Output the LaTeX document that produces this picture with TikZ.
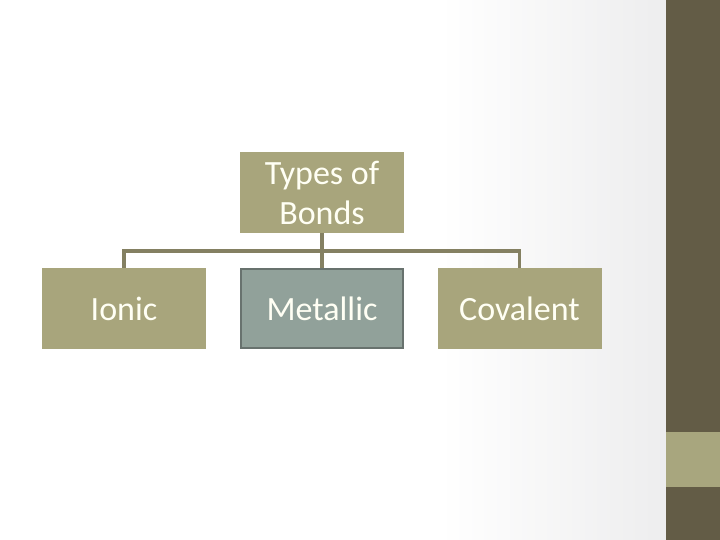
\documentclass[tikz,border=0pt]{standalone}
\usepackage{fontspec}
\setmainfont{Carlito}
\definecolor{boxfill}{HTML}{A8A57C}
\definecolor{metfill}{HTML}{91A19A}
\definecolor{metline}{HTML}{68726E}
\definecolor{conn}{HTML}{848062}
\definecolor{bardark}{HTML}{635C46}
\definecolor{barlight}{HTML}{A8A67E}
\definecolor{bgright}{HTML}{EDEDEE}
\definecolor{txt}{HTML}{FFFFF4}
\begin{document}
\begin{tikzpicture}[x=1pt,y=-1pt,
  bondbox/.style={fill=boxfill, text=txt, minimum width=164pt, minimum height=81pt, inner sep=0pt, align=center,
    font=\fontsize{34}{40}\selectfont},
  metbox/.style={bondbox, fill=metfill, draw=metline, line width=2.5pt},
  link/.style={draw=conn, line width=3.2pt}]
\useasboundingbox (0,0) rectangle (720,540);
\fill[white] (0,0) rectangle (720,540);
\shade[left color=white, right color=bgright] (440,0) rectangle (666,540);
\fill[bardark] (666,0) rectangle (720,540);
\fill[barlight] (666,432) rectangle (720,487);
\node[bondbox] (top) at (322,192.5) {Types of\\Bonds};
\node[bondbox] (ionic) at (124,308.5) {Ionic};
\node[metbox, minimum width=162pt, minimum height=79pt] (met) at (322,308.5) {Metallic};
\node[bondbox] (cov) at (519.5,308.5) {Covalent};
\coordinate (hub) at (322,251);
\draw[link] (top.south) -- (hub);
\draw[link] (hub) -| (ionic.north);
\draw[link] (hub) -| (cov.north);
\draw[link] (hub) -- (met.north);
\end{tikzpicture}
\end{document}
